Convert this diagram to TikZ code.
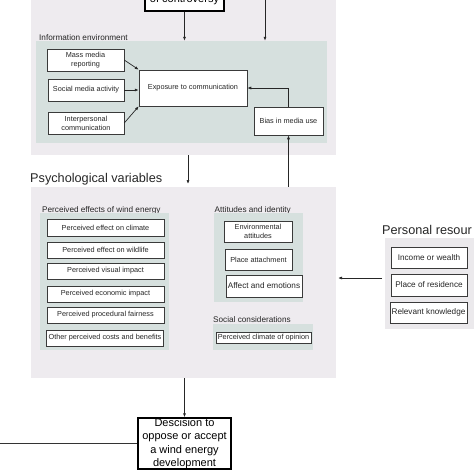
\documentclass[tikz,border=0pt]{standalone}
\usepackage{fontspec}
\setmainfont{Liberation Sans}
\usetikzlibrary{arrows.meta}

\definecolor{envbg}{HTML}{EEEBEF}
\definecolor{grpbg}{HTML}{D6E0DE}
\definecolor{resbg}{HTML}{EBE9EC}
\definecolor{edge}{HTML}{3A3A3A}

\newcommand{\itemfont}{\fontsize{7.3}{9}\selectfont}
\newcommand{\headfont}{\fontsize{8.2}{9.5}\selectfont}
\newcommand{\titlefont}{\fontsize{12.7}{14}\selectfont}
\newcommand{\decfont}{\fontsize{11}{13.3}\selectfont}

\tikzset{
  panel/.style={fill=envbg, inner sep=0pt},
  group/.style={fill=grpbg, inner sep=0pt},
  item/.style={draw=edge, line width=.5pt, fill=white, inner sep=0pt, align=center, font=\itemfont, text=black!85},
  bigitem/.style={item, line width=.8pt, font=\headfont},
  heading/.style={anchor=base west, font=\headfont, inner sep=0pt, text=black!85},
  title/.style={anchor=base west, font=\titlefont, inner sep=0pt, text=black!85},
  arr/.style={-{Latex[length=4pt,width=3pt]}, line width=.7pt, draw=black!85},
  decbox/.style={draw=black, line width=1.4pt, fill=white, inner sep=0pt, align=center, font=\decfont}
}

\begin{document}
\begin{tikzpicture}[x=1pt,y=-1pt]
\useasboundingbox (0,0) rectangle (474,474);

\node[panel, minimum width=305, minimum height=175] (topenv) at (183.5,67.5) {};
\node[decbox, minimum width=79, minimum height=31] (ctrl) at (184.5,-4.5) {};
\node[anchor=base, font=\decfont, inner sep=0pt] (ctrltext) at (184.5,2) {of controversy};
\coordinate (rtop) at (265,0);

\node[heading] (infolabel) at (39,40) {Information environment};
\node[group, minimum width=291, minimum height=102] (info) at (181.5,92) {};
\node[item, minimum width=77, minimum height=22] (mass) at (85.5,60) {Mass media\\reporting};
\node[item, minimum width=76, minimum height=22] (soc) at (86,90) {Social media activity};
\node[item, minimum width=76, minimum height=22] (inter) at (86,123) {Interpersonal\\communication};
\node[item, minimum width=108, minimum height=36] (expo) at (193,88) {Exposure to communication};
\node[item, minimum width=69, minimum height=28] (bias) at (288.5,121) {Bias in media use};

\draw[arr] (ctrl.south) -- (ctrl.south |- info.north);
\draw[arr] (rtop) -- (rtop |- info.north);
\draw[arr] (mass.east) -- (expo.north west);
\draw[arr] (soc.east) -- (soc.east -| expo.west);
\draw[arr] (inter.east) -- (expo.south west);
\draw[arr] (bias.north) |- (expo.east);

\node[title] (psychlabel) at (30,182) {Psychological variables};
\node[panel, minimum width=305, minimum height=191] (psych) at (183.5,282.5) {};

\node[heading] (efflabel) at (42,212) {Perceived effects of wind energy};
\node[group, minimum width=129, minimum height=137] (eff) at (104.5,281.5) {};
\node[item, minimum width=117, minimum height=17] (climate) at (105.5,227.5) {Perceived effect on climate};
\node[item, minimum width=117, minimum height=16] (wildlife) at (105.5,250) {Perceived effect on wildlife};
\node[item, minimum width=117, minimum height=16, line width=.8pt] (visual) at (105.5,271) {Perceived visual impact};
\node[item, minimum width=117, minimum height=16, line width=.8pt] (economic) at (105.5,294) {Perceived economic impact};
\node[item, minimum width=117, minimum height=16] (fairness) at (105.5,315) {Perceived procedural fairness};
\node[item, minimum width=117, minimum height=16] (other) at (105,338) {Other perceived costs and benefits};

\node[heading] (attlabel) at (214.5,212) {Attitudes and identity};
\node[group, minimum width=89, minimum height=89] (att) at (258.5,257.5) {};
\node[item, minimum width=68, minimum height=21] (envatt) at (258,231.5) {Environmental\\attitudes};
\node[item, minimum width=67, minimum height=21] (place) at (258.5,259.5) {Place attachment};
\node[bigitem, minimum width=76, minimum height=22] (affect) at (264,286) {Affect and emotions};

\node[heading] (soclabel) at (213,322) {Social considerations};
\node[group, minimum width=100, minimum height=26] (socgrp) at (263,337) {};
\node[item, minimum width=95, minimum height=11] (opinion) at (263.5,337.5) {Perceived climate of opinion};

\node[title] (reslabel) at (382,234) {Personal resour};
\node[fill=resbg, inner sep=0pt, minimum width=95, minimum height=91] (res) at (432.5,283.5) {};
\node[bigitem, line width=.5pt, minimum width=76, minimum height=21] (income) at (429,257.5) {Income or wealth};
\node[bigitem, line width=.5pt, minimum width=76, minimum height=22] (residence) at (429,285) {Place of residence};
\node[bigitem, minimum width=77, minimum height=21] (knowledge) at (428.5,312.5) {Relevant knowledge};

\coordinate (envout) at (188,155);
\coordinate (psychin) at (188,184);
\coordinate (resout) at (382,278);
\coordinate (resin) at (338,278);
\draw[arr] (envout) -- (psychin);
\draw[arr] (bias.south |- psych.north) -- (bias.south);
\draw[arr] (resout) -- (resin);

\node[decbox, minimum width=93, minimum height=51] (dec) at (184.5,443.5) {Descision to\\oppose or accept\\a wind energy\\development};
\coordinate (leftend) at (0,443.5);
\draw[arr] (psych.south -| dec.north) -- (dec.north);
\draw[line width=.8pt, draw=black!80] (leftend) -- (dec.west);
\end{tikzpicture}
\end{document}
